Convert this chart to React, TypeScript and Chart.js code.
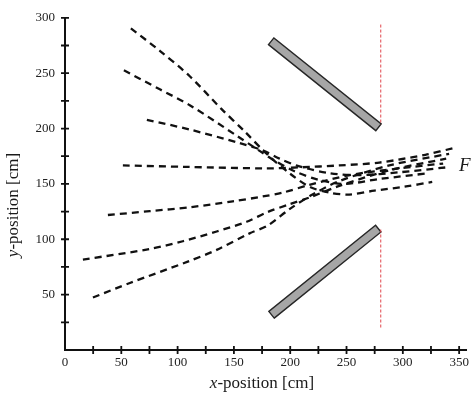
import React, { useEffect, useRef } from 'react';
import { Chart, registerables } from 'chart.js';

Chart.register(...registerables);

// Axis ranges and ticks
const xMin = 0;
const xMax = 357;
const yMin = 0;
const yMax = 300;
const tickStep = 25;
const labelStep = 50;

// Ion trajectories [x, y] in cm
const trajA = [[58.5, 290.4], [84.2, 270.2], [110.8, 247.2], [139.1, 217.5], [159.5, 197.4], [179.0, 177.2], [199.4, 159.6], [217.1, 147.4], [234.8, 142.1], [252.5, 140.4], [274.7, 143.9], [301.3, 147.4], [326.1, 151.8]];
const trajB = [[52.3, 252.6], [84.2, 235.4], [110.8, 221.1], [153.3, 193.0], [172.8, 179.8], [186.1, 171.1], [203.8, 161.4], [226.0, 153.5], [248.1, 150.0], [279.1, 154.4], [323.4, 159.7]];
const trajC = [[72.7, 207.9], [110.8, 199.1], [155.1, 186.8], [174.6, 180.7], [190.5, 172.8], [208.2, 165.8], [234.8, 159.7], [261.4, 157.9], [296.8, 160.5], [338.5, 164.9]];
const trajD = [[51.4, 166.7], [106.3, 165.4], [179.0, 164.0], [208.2, 164.9], [243.7, 166.7], [279.1, 169.3], [320.0, 176.3], [345.6, 182.5]];
const trajE = [[38.1, 121.9], [75.3, 125.4], [110.8, 128.9], [148.9, 134.2], [175.4, 138.6], [193.2, 142.1], [217.1, 149.1], [252.5, 157.9], [296.8, 164.0], [335.8, 168.4]];
const trajF = [[15.9, 81.6], [75.3, 91.2], [104.6, 98.2], [134.7, 107.0], [161.3, 115.8], [179.9, 124.6], [199.4, 131.6], [217.1, 137.7], [243.7, 148.2], [288.0, 162.3], [338.5, 172.8]];
const trajG = [[24.8, 47.4], [57.6, 60.5], [109.0, 79.8], [134.7, 90.4], [163.9, 105.3], [179.9, 112.3], [199.4, 127.2], [219.8, 140.4], [243.7, 152.6], [288.0, 166.7], [341.1, 177.2]];
const trajectories = [trajA, trajB, trajC, trajD, trajE, trajF, trajG];

// Mirror plates: end points [x, y] in cm
const upperPlate = [[183.1, 278.8], [278.4, 201.1]];
const lowerPlate = [[183.4, 31.8], [278.2, 109.6]];

// Red dashed reference line segments
const refUpper = [[280.4, 293.9], [280.4, 203.5]];
const refLower = [[280.4, 108.8], [280.4, 20.2]];

// Focus label
const focusLabel = 'F';
const focusPos = [355, 166];

const SERIF = '"Liberation Serif", "Times New Roman", serif';

const toPts = (arr: number[][]) => arr.map(([x, y]) => ({ x, y }));

const decorPlugin = {
  id: 'decor',
  beforeDatasetsDraw(chart: any) {
    const { ctx, scales } = chart;
    const xs = scales.x, ys = scales.y;
    const half = 4.3;
    ctx.save();
    for (const plate of [upperPlate, lowerPlate]) {
      const x0 = xs.getPixelForValue(plate[0][0]);
      const y0 = ys.getPixelForValue(plate[0][1]);
      const x1 = xs.getPixelForValue(plate[1][0]);
      const y1 = ys.getPixelForValue(plate[1][1]);
      const dx = x1 - x0, dy = y1 - y0;
      const len = Math.hypot(dx, dy);
      const nx = (-dy / len) * half, ny = (dx / len) * half;
      ctx.beginPath();
      ctx.moveTo(x0 + nx, y0 + ny);
      ctx.lineTo(x1 + nx, y1 + ny);
      ctx.lineTo(x1 - nx, y1 - ny);
      ctx.lineTo(x0 - nx, y0 - ny);
      ctx.closePath();
      ctx.fillStyle = '#a6a6a6';
      ctx.fill();
      ctx.lineWidth = 1.4;
      ctx.strokeStyle = '#262626';
      ctx.lineJoin = 'miter';
      ctx.stroke();
    }
    ctx.restore();
  },
  afterDraw(chart: any) {
    const { ctx, scales, chartArea } = chart;
    const xs = scales.x, ys = scales.y;
    const ax = xs.getPixelForValue(xMin);
    const ay = ys.getPixelForValue(yMin);
    ctx.save();
    ctx.strokeStyle = '#111';
    ctx.lineWidth = 2;
    ctx.beginPath();
    ctx.moveTo(ax - 1, ay);
    ctx.lineTo(chartArea.right, ay);
    ctx.moveTo(ax, ay + 1);
    ctx.lineTo(ax, ys.getPixelForValue(yMax));
    ctx.stroke();
    ctx.lineWidth = 1.8;
    ctx.beginPath();
    for (let v = tickStep; v <= 350; v += tickStep) {
      const px = xs.getPixelForValue(v);
      ctx.moveTo(px, ay - 4);
      ctx.lineTo(px, ay + 4);
    }
    for (let v = tickStep; v <= yMax; v += tickStep) {
      const py = ys.getPixelForValue(v);
      ctx.moveTo(ax - 4, py);
      ctx.lineTo(ax + 4, py);
    }
    ctx.stroke();

    // axis titles with italic variable
    const drawTitle = (cx: number, cy: number, v: string, rest: string) => {
      ctx.textBaseline = 'middle';
      ctx.textAlign = 'left';
      ctx.fillStyle = '#1a1a1a';
      ctx.font = `italic 17px ${SERIF}`;
      const w1 = ctx.measureText(v).width;
      ctx.font = `17px ${SERIF}`;
      const w2 = ctx.measureText(rest).width;
      const start = cx - (w1 + w2) / 2;
      ctx.font = `italic 17px ${SERIF}`;
      ctx.fillText(v, start, cy);
      ctx.font = `17px ${SERIF}`;
      ctx.fillText(rest, start + w1, cy);
    };
    drawTitle(262, 384, 'x', '-position [cm]');
    ctx.save();
    ctx.translate(14, 205);
    ctx.rotate(-Math.PI / 2);
    drawTitle(0, 0, 'y', '-position [cm]');
    ctx.restore();

    // focus label
    ctx.font = `italic 19px ${SERIF}`;
    ctx.textAlign = 'center';
    ctx.textBaseline = 'middle';
    ctx.fillStyle = '#1a1a1a';
    ctx.fillText(focusLabel, xs.getPixelForValue(focusPos[0]), ys.getPixelForValue(focusPos[1]));
    ctx.restore();
  },
};

export default function App() {
  const canvasRef = useRef<HTMLCanvasElement | null>(null);

  useEffect(() => {
    if (!canvasRef.current) return;
    const trajSets = trajectories.map((t) => ({
      data: toPts(t),
      showLine: true,
      borderColor: '#111',
      borderWidth: 2.3,
      borderDash: [7, 5],
      pointRadius: 0,
      tension: 0.3,
      fill: false,
    }));
    const refSets = [refUpper, refLower].map((r) => ({
      data: toPts(r),
      showLine: true,
      borderColor: '#e0444a',
      borderWidth: 1,
      borderDash: [3, 2],
      pointRadius: 0,
      fill: false,
    }));
    const chart = new Chart(canvasRef.current, {
      type: 'scatter',
      data: { datasets: [...refSets, ...trajSets] as any },
      options: {
        animation: false,
        responsive: true,
        maintainAspectRatio: false,
        layout: { padding: { top: 8, right: 6, left: 0, bottom: 0 } },
        plugins: { legend: { display: false }, tooltip: { enabled: false } },
        scales: {
          x: {
            type: 'linear',
            min: xMin,
            max: xMax,
            afterFit: (s: any) => { s.height = 49; },
            grid: { display: false, drawTicks: false },
            border: { display: false },
            ticks: {
              stepSize: tickStep,
              includeBounds: false,
              autoSkip: false,
              maxRotation: 0,
              padding: 5,
              color: '#222',
              font: { family: SERIF, size: 13 },
              callback: (v: any) => (Number(v) % labelStep === 0 ? String(v) : ''),
            },
          },
          y: {
            type: 'linear',
            min: yMin,
            max: yMax,
            afterFit: (s: any) => { s.width = 65; },
            grid: { display: false, drawTicks: false },
            border: { display: false },
            ticks: {
              stepSize: tickStep,
              autoSkip: false,
              padding: 10,
              color: '#222',
              font: { family: SERIF, size: 13 },
              callback: (v: any) => (Number(v) % labelStep === 0 && Number(v) !== 0 ? String(v) : ''),
            },
          },
        },
      } as any,
      plugins: [decorPlugin],
    });
    return () => chart.destroy();
  }, []);

  return (
    <div style={{ position: 'fixed', left: 0, top: 0, width: 474, height: 399, background: '#fff' }}>
      <canvas ref={canvasRef} />
    </div>
  );
}
